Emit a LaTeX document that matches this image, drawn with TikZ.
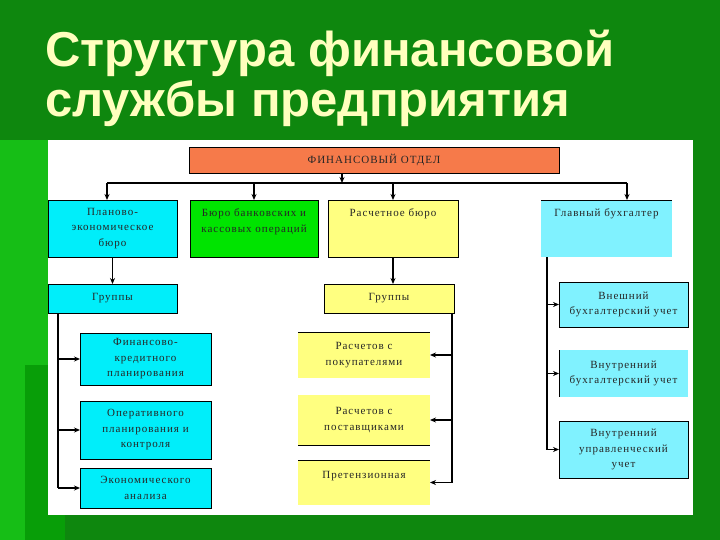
\documentclass[tikz,border=0pt]{standalone}
\usepackage{fontspec}
\setmainfont{Liberation Serif}[LetterSpace=9]
\newfontfamily\headfont{Liberation Sans}
\usepackage{tikz}
\usetikzlibrary{arrows.meta, positioning}

\definecolor{slidegreen}{RGB}{14,135,14}
\definecolor{lightgreen}{RGB}{22,190,22}
\definecolor{midgreen}{RGB}{8,158,8}
\definecolor{headyellow}{RGB}{255,255,190}
\definecolor{deptorange}{RGB}{246,122,74}
\definecolor{boxcyan}{RGB}{0,238,250}
\definecolor{palecyan}{RGB}{128,242,255}
\definecolor{boxgreen}{RGB}{0,228,0}
\definecolor{boxyellow}{RGB}{255,255,128}

\tikzstyle{arrow} = [line width=1.2pt,->,>={Stealth[length=6pt,width=5pt]}]
\tikzstyle{link} = [line width=1.2pt]
\tikzstyle{unit} = [rectangle, inner sep=0pt, outer sep=0pt, align=center, font=\fontsize{11}{15.5}\selectfont, text=black!85]
\tikzstyle{framed} = [draw=black, line width=0.8pt]
\tikzstyle{edge} = [line width=0.8pt]
\tikzstyle{title} = [anchor=base west, inner sep=0pt, text=headyellow, font=\headfont\bfseries\fontsize{49}{50}\selectfont]

\begin{document}
\begin{tikzpicture}[x=1pt, y=-1pt]

% Slide background
\fill[slidegreen] (0,0) rectangle (720,540);
\fill[lightgreen] (0,140) rectangle (48,540);
\fill[midgreen] (25,365) rectangle (65,540);
\fill[white] (48,140) rectangle (693,515);
\useasboundingbox (0,0) rectangle (720,540);

% Title
\node (titleA) [title] at (45,67) {Структура финансовой};
\node (titleB) [title] at (45,117) {службы предприятия};

% Department
\node (finance) [unit, framed, fill=deptorange, minimum width=370pt, minimum height=26pt] at (374,160) {ФИНАНСОВЫЙ ОТДЕЛ};

% Bureaus
\node (plan) [unit, framed, fill=boxcyan, minimum width=129pt, minimum height=57pt] at (112.5,228.5) {Планово-\\экономическое\\бюро};
\node (bank) [unit, framed, fill=boxgreen, minimum width=128pt, minimum height=57pt] at (254,228.5) {Бюро банковских и\\кассовых операций\\~};
\node (calc) [unit, framed, fill=boxyellow, minimum width=130pt, minimum height=57pt] at (393,228.5) {Расчетное бюро\\~\\~};
\node (chief) [unit, fill=palecyan, minimum width=131pt, minimum height=57pt] at (606.5,228.5) {Главный бухгалтер\\~\\~};

% Groups
\node (groupsL) [unit, framed, fill=boxcyan, minimum width=129pt, minimum height=29pt] at (112.5,298.5) {Группы};
\node (groupsR) [unit, framed, fill=boxyellow, minimum width=130pt, minimum height=29pt] at (389,298.5) {Группы};

% Planning groups
\node (fincred) [unit, framed, fill=boxcyan, minimum width=131pt, minimum height=52pt] at (145.5,359) {Финансово-\\кредитного\\планирования};
\node (oper) [unit, framed, fill=boxcyan, minimum width=131pt, minimum height=58pt] at (145.5,430) {Оперативного\\планирования и\\контроля};
\node (econ) [unit, framed, fill=boxcyan, minimum width=131pt, minimum height=40pt] at (145.5,488) {Экономического\\анализа};

% Settlement groups
\node (buyers) [unit, fill=boxyellow, minimum width=132pt, minimum height=46pt] at (364,355) {Расчетов с\\покупателями};
\node (suppl) [unit, fill=boxyellow, minimum width=132pt, minimum height=50pt] at (364,420) {Расчетов с\\поставщиками};
\node (claims) [unit, fill=boxyellow, minimum width=132pt, minimum height=45pt] at (364,482.5) {Претензионная\\~};

% Accounting
\node (extacc) [unit, framed, fill=palecyan, minimum width=129pt, minimum height=45pt] at (623.5,304.5) {Внешний\\бухгалтерский учет};
\node (intacc) [unit, fill=palecyan, minimum width=129pt, minimum height=47pt] at (623.5,373.5) {Внутренний\\бухгалтерский учет};
\node (mgmtacc) [unit, framed, fill=palecyan, minimum width=129pt, minimum height=57pt] at (623.5,449.5) {Внутренний\\управленческий\\учет};

% Visible edges of open boxes
\draw [edge] (chief.north west) -- (chief.north east);
\draw [edge] (buyers.north west) -- (buyers.north east);
\draw [edge] (suppl.south west) -- (suppl.south east);
\draw [edge] (claims.north west) -- (claims.north east);
\draw [edge] (intacc.north west) -- (intacc.south west);

% Connections
\coordinate (busL) at (107,183);
\coordinate (busR) at (627,183);
\coordinate (topjoin) at (342,183);
\draw [arrow] (finance.south -| topjoin) -- (topjoin);
\draw [link] (busL) -- (busR);
\draw [arrow] (busL) -- (busL |- plan.north);
\draw [arrow] (bank.north |- busL) -- (bank.north);
\draw [arrow] (calc.north |- busL) -- (calc.north);
\draw [arrow] (busR) -- (busR |- chief.north);

\draw [arrow] (plan.south) -- (groupsL.north);
\draw [arrow] (calc.south) -- (calc.south |- groupsR.north);

\coordinate (lspine) at (58,313);
\draw [link] (lspine) -- (lspine |- econ.west);
\draw [arrow] (lspine |- fincred.west) -- (fincred.west);
\draw [arrow] (lspine |- oper.west) -- (oper.west);
\draw [arrow] (lspine |- econ.west) -- (econ.west);

\coordinate (rspine) at (452,313);
\draw [link] (rspine) -- (rspine |- claims.east);
\draw [arrow] (rspine |- buyers.east) -- (buyers.east);
\draw [arrow] (rspine |- suppl.east) -- (suppl.east);
\draw [arrow] (rspine |- claims.east) -- (claims.east);

\coordinate (cspine) at (547,257);
\draw [link] (cspine) -- (cspine |- mgmtacc.west);
\draw [arrow] (cspine |- extacc.west) -- (extacc.west);
\draw [arrow] (cspine |- intacc.west) -- (intacc.west);
\draw [arrow] (cspine |- mgmtacc.west) -- (mgmtacc.west);

\end{tikzpicture}
\end{document}
